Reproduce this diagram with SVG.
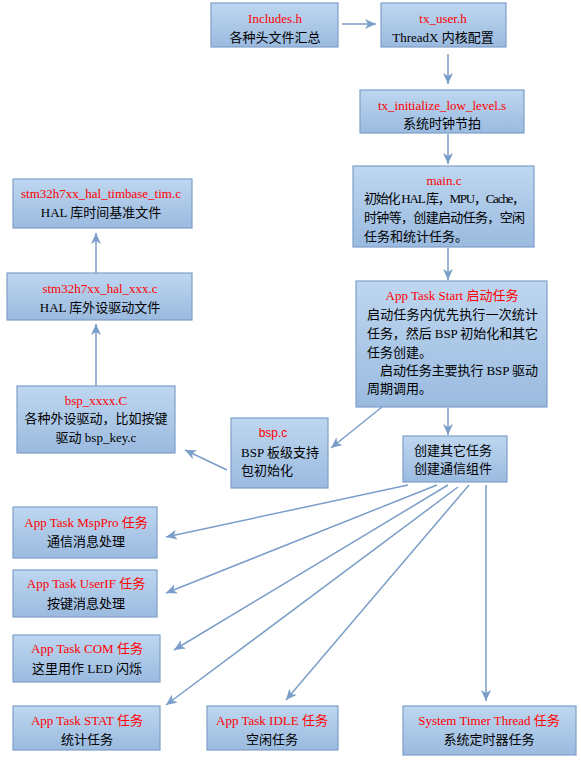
<svg xmlns="http://www.w3.org/2000/svg" width="581" height="761" viewBox="0 0 581 761">
<defs>
<linearGradient id="g" x1="0" y1="0" x2="0" y2="1">
<stop offset="0" stop-color="#bed7f0"/>
<stop offset="1" stop-color="#9abadf"/>
</linearGradient>
<marker id="ah" markerUnits="userSpaceOnUse" markerWidth="12" markerHeight="12" viewBox="0 0 12 12" refX="11" refY="6" orient="auto">
<path d="M0,1 L11,6 L0,11 L3,6 Z" fill="#7a9ec9"/>
</marker>
<style>
.b{fill:url(#g);stroke:#7f9fc8;stroke-width:1.2}
.t{font-family:"Liberation Serif","Noto Sans CJK SC",serif;font-size:13px;fill:#ff0000;text-anchor:middle}
.ts{font-family:"Liberation Sans","Noto Sans CJK SC",sans-serif;font-size:12px;fill:#ff0000;text-anchor:middle}
.c{font-family:"Liberation Serif","Noto Sans CJK SC",serif;font-size:13px;fill:#000;text-anchor:middle}
.l{font-family:"Liberation Serif","Noto Sans CJK SC",serif;font-size:13px;fill:#000}
.a{stroke:#7a9ec9;stroke-width:1.5;fill:none;marker-end:url(#ah)}
</style>
</defs>
<g id="connectors">
<line class="a" x1="342" y1="24" x2="376" y2="24"/>
<line class="a" x1="448" y1="54" x2="448" y2="84"/>
<line class="a" x1="448" y1="134" x2="448" y2="164"/>
<line class="a" x1="448" y1="248" x2="448" y2="280"/>
<line class="a" x1="448" y1="408" x2="448" y2="435"/>
<line class="a" x1="382" y1="407" x2="331" y2="448"/>
<line class="a" x1="227" y1="470" x2="185" y2="450"/>
<line class="a" x1="96" y1="386" x2="96" y2="324"/>
<line class="a" x1="96" y1="273" x2="96" y2="233"/>
<line class="a" x1="408" y1="485" x2="166" y2="537"/>
<line class="a" x1="437" y1="485" x2="166" y2="593"/>
<line class="a" x1="448" y1="485" x2="174" y2="650"/>
<line class="a" x1="458" y1="487" x2="166" y2="705"/>
<line class="a" x1="469" y1="485" x2="286" y2="700"/>
<line class="a" x1="486" y1="485" x2="486" y2="701"/>
</g>
<g id="includes">
<rect class="b" x="211" y="3" width="127" height="44"/>
<text class="t" x="275" y="23">Includes.h</text>
<text class="c" x="275" y="42">各种头文件汇总</text>
</g>
<g id="tx_user">
<rect class="b" x="381" y="3" width="125" height="44"/>
<text class="t" x="443" y="23">tx_user.h</text>
<text class="c" x="443" y="42">ThreadX 内核配置</text>
</g>
<g id="tx_init">
<rect class="b" x="360" y="90" width="164" height="43"/>
<text class="t" x="442" y="110">tx_initialize_low_level.s</text>
<text class="c" x="442" y="128">系统时钟节拍</text>
</g>
<g id="main">
<rect class="b" x="353" y="166" width="181" height="81"/>
<text class="t" x="444" y="185">main.c</text>
<text class="l" x="364" y="203" textLength="161" lengthAdjust="spacing">初始化 HAL 库，MPU，Cache，</text>
<text class="l" x="364" y="222" textLength="161" lengthAdjust="spacing">时钟等，创建启动任务，空闲</text>
<text class="l" x="364" y="241">任务和统计任务。</text>
</g>
<g id="start">
<rect class="b" x="356" y="281" width="191" height="126"/>
<text class="t" x="452" y="300">App Task Start 启动任务</text>
<text class="l" x="367" y="319" textLength="171" lengthAdjust="spacing">启动任务内优先执行一次统计</text>
<text class="l" x="367" y="338" textLength="171" lengthAdjust="spacing">任务，然后 BSP 初始化和其它</text>
<text class="l" x="367" y="357">任务创建。</text>
<text class="l" x="380" y="375" textLength="158" lengthAdjust="spacing">启动任务主要执行 BSP 驱动</text>
<text class="l" x="367" y="393">周期调用。</text>
</g>
<g id="timbase">
<rect class="b" x="13" y="179" width="179" height="49"/>
<text class="t" x="101" y="198">stm32h7xx_hal_timbase_tim.c</text>
<text class="c" x="101" y="217">HAL 库时间基准文件</text>
</g>
<g id="hal_xxx">
<rect class="b" x="7" y="273" width="185" height="47"/>
<text class="t" x="100" y="293">stm32h7xx_hal_xxx.c</text>
<text class="c" x="100" y="312">HAL 库外设驱动文件</text>
</g>
<g id="bsp_xxxx">
<rect class="b" x="17" y="386" width="158" height="67"/>
<text class="t" x="96" y="405">bsp_xxxx.C</text>
<text class="c" x="96" y="423">各种外设驱动，比如按键</text>
<text class="c" x="96" y="442">驱动 bsp_key.c</text>
</g>
<g id="bsp">
<rect class="b" x="231" y="418" width="97" height="70"/>
<text class="ts" x="273" y="437">bsp.c</text>
<text class="l" x="241" y="457" textLength="78" lengthAdjust="spacing">BSP 板级支持</text>
<text class="l" x="241" y="475">包初始化</text>
</g>
<g id="create">
<rect class="b" x="403" y="436" width="104" height="46"/>
<text class="l" x="414" y="455">创建其它任务</text>
<text class="l" x="414" y="473">创建通信组件</text>
</g>
<g id="msppro">
<rect class="b" x="13" y="507" width="144" height="51"/>
<text class="t" x="86" y="527">App Task MspPro 任务</text>
<text class="c" x="86" y="546">通信消息处理</text>
</g>
<g id="userif">
<rect class="b" x="13" y="570" width="144" height="47"/>
<text class="t" x="86" y="588">App Task UserIF 任务</text>
<text class="c" x="86" y="608">按键消息处理</text>
</g>
<g id="com">
<rect class="b" x="13" y="635" width="147" height="47"/>
<text class="t" x="87" y="653">App Task COM 任务</text>
<text class="c" x="87" y="673">这里用作 LED 闪烁</text>
</g>
<g id="stat">
<rect class="b" x="13" y="706" width="147" height="44"/>
<text class="t" x="87" y="725">App Task STAT 任务</text>
<text class="c" x="87" y="744">统计任务</text>
</g>
<g id="idle">
<rect class="b" x="207" y="706" width="131" height="44"/>
<text class="t" x="272" y="725">App Task IDLE 任务</text>
<text class="c" x="272" y="744">空闲任务</text>
</g>
<g id="timer">
<rect class="b" x="403" y="706" width="173" height="49"/>
<text class="t" x="489" y="725">System Timer Thread 任务</text>
<text class="c" x="489" y="744">系统定时器任务</text>
</g>
</svg>
